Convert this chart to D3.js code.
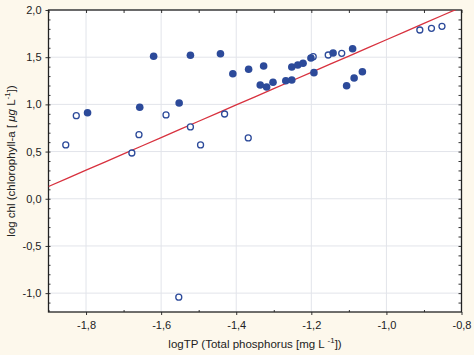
<!DOCTYPE html>
<html><head><meta charset="utf-8">
<script src="https://cdn.jsdelivr.net/npm/d3@7"></script>
<style>
html,body{margin:0;padding:0;background:#fdf8ec;}
svg{display:block;font-family:"Liberation Sans",Arial,sans-serif;}
</style></head><body>
<svg id="c" width="474" height="355"></svg>
<script>
// open circles
const openX = [-1.854,-1.826,-1.678,-1.659,-1.587,-1.522,-1.495,-1.431,-1.368,-1.553,-1.195,-1.155,-1.119,-0.911,-0.880,-0.852];
const openY = [0.570,0.880,0.485,0.679,0.888,0.761,0.570,0.898,0.644,-1.043,1.505,1.523,1.541,1.788,1.806,1.827];
// filled circles
const fillX = [-1.796,-1.657,-1.620,-1.552,-1.522,-1.442,-1.409,-1.367,-1.327,-1.336,-1.319,-1.302,-1.268,-1.252,-1.252,-1.236,-1.222,-1.201,-1.193,-1.142,-1.090,-1.106,-1.086,-1.064];
const fillY = [0.912,0.969,1.510,1.015,1.520,1.537,1.325,1.372,1.407,1.206,1.184,1.234,1.251,1.258,1.396,1.417,1.435,1.492,1.336,1.544,1.590,1.198,1.280,1.346];
// regression line y = a + b x
const lineA = 3.413, lineB = 1.728;
const xTicks = [-1.8,-1.6,-1.4,-1.2,-1.0,-0.8];
const yTicks = [-1.0,-0.5,0.0,0.5,1.0,1.5,2.0];
const xDomain = [-1.9,-0.8], yDomain = [-1.2,2.0];

const svg = d3.select("#c");
const L=48.5, R=461.5, T=10, B=312;
const x = d3.scaleLinear().domain(xDomain).range([L,R]);
const y = d3.scaleLinear().domain(yDomain).range([B,T]);
const fmt = d => d3.format(".1f")(d).replace(".",",").replace("−","-");
const blue = "#2c4a9a";

svg.append("rect").attr("x",L).attr("y",T).attr("width",R-L).attr("height",B-T).attr("fill","#fff");

// grid
svg.append("g").selectAll("line").data(xTicks).join("line")
  .attr("x1",d=>x(d)).attr("x2",d=>x(d)).attr("y1",T).attr("y2",B)
  .attr("stroke","#e2e4ea").attr("stroke-width",1);
svg.append("g").selectAll("line").data(yTicks).join("line")
  .attr("x1",L).attr("x2",R).attr("y1",d=>y(d)).attr("y2",d=>y(d))
  .attr("stroke","#e2e4ea").attr("stroke-width",1);

// axes
const ax = svg.append("g").attr("transform",`translate(0,${B})`)
  .call(d3.axisBottom(x).tickValues(xTicks).tickFormat(fmt).tickSize(3).tickPadding(6));
const ay = svg.append("g").attr("transform",`translate(${L},0)`)
  .call(d3.axisLeft(y).tickValues(yTicks).tickFormat(fmt).tickSize(3).tickPadding(4));
[ax,ay].forEach(g=>{
  g.select(".domain").remove();
  g.selectAll("text").attr("font-size",11).attr("fill","#222").attr("font-family","Liberation Sans, Arial, sans-serif");
  g.selectAll("line").attr("stroke","#333");
});
// top & right ticks (inward)
svg.append("g").attr("transform",`translate(0,${T})`)
  .call(d3.axisBottom(x).tickValues(xTicks.concat([-1.9,-1.7,-1.5,-1.3,-1.1,-0.9])).tickFormat("").tickSize(3))
  .call(g=>{g.select(".domain").remove();g.selectAll("line").attr("stroke","#333");});
const minorY = d3.range(-11,20).map(v=>v/10);
svg.append("g").attr("transform",`translate(${R},0)`)
  .call(d3.axisLeft(y).tickValues(minorY).tickFormat("").tickSize(3))
  .call(g=>{g.select(".domain").remove();g.selectAll("line").attr("stroke","#333");});
svg.append("g").attr("transform",`translate(${L},0)`)
  .call(d3.axisRight(y).tickValues(minorY).tickFormat("").tickSize(2))
  .call(g=>{g.select(".domain").remove();g.selectAll("line").attr("stroke","#333");});
svg.append("g").attr("transform",`translate(0,${B})`)
  .call(d3.axisTop(x).tickValues([-1.9,-1.7,-1.5,-1.3,-1.1,-0.9]).tickFormat("").tickSize(2))
  .call(g=>{g.select(".domain").remove();g.selectAll("line").attr("stroke","#333");});

// frame
svg.append("rect").attr("x",L).attr("y",T).attr("width",R-L).attr("height",B-T)
  .attr("fill","none").attr("stroke","#222").attr("stroke-width",1.3);

// regression line, clipped
svg.append("clipPath").attr("id","clip").append("rect").attr("x",L).attr("y",T).attr("width",R-L).attr("height",B-T);
const lx = d3.range(xDomain[0], xDomain[1]+0.0001, 0.05);
svg.append("path").attr("clip-path","url(#clip)")
  .attr("d", d3.line().x(d=>x(d)).y(d=>y(lineA+lineB*d))(lx))
  .attr("fill","none").attr("stroke","#d8323f").attr("stroke-width",1.3);

// points
svg.append("g").selectAll("circle").data(d3.zip(openX,openY)).join("circle")
  .attr("cx",d=>x(d[0])).attr("cy",d=>y(d[1])).attr("r",3)
  .attr("fill","#fff").attr("stroke",blue).attr("stroke-width",1.3);
svg.append("g").selectAll("circle").data(d3.zip(fillX,fillY)).join("circle")
  .attr("cx",d=>x(d[0])).attr("cy",d=>y(d[1])).attr("r",3.8)
  .attr("fill",blue);

// labels
const xl = svg.append("text").attr("x",(L+R)/2).attr("y",348).attr("text-anchor","middle")
  .attr("font-size",11.5).attr("fill","#222");
xl.append("tspan").text("logTP (Total phosphorus [mg L ");
xl.append("tspan").attr("font-size",8).attr("dy",-5).text("-1");
xl.append("tspan").attr("dy",5).text("])");

const yl = svg.append("text").attr("transform",`translate(15,${(T+B)/2}) rotate(-90)`)
  .attr("text-anchor","middle").attr("font-size",11.5).attr("fill","#222");
yl.append("tspan").text("log chl (chlorophyll-a [ ");
yl.append("tspan").attr("font-style","italic").text("\u03bcg");
yl.append("tspan").text(" L");
yl.append("tspan").attr("font-size",8).attr("dy",-5).text("-1");
yl.append("tspan").attr("dy",5).text("])");
</script>
</body></html>
